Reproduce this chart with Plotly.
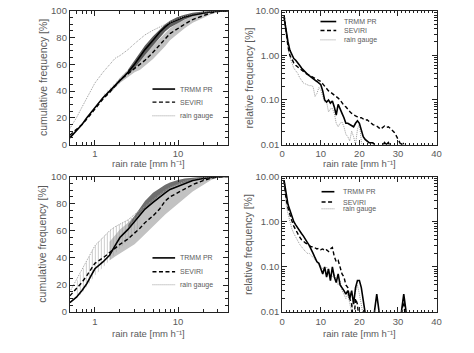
import plotly.graph_objects as go

# ---------------- cumulative frequency (left panels) ----------------
cum_rate = [0.5, 0.6, 0.7, 0.8, 0.9, 1.0, 1.25, 1.5, 1.75, 2.0, 2.5, 3.0, 3.5, 4, 5, 6, 7, 8, 10, 12, 15, 20, 25, 30, 40]

# top-left
cum_trmm_a = [5, 10, 15, 20, 24, 28, 35, 40, 44, 48, 54, 60, 66, 71, 78, 84, 88, 91, 93.5, 95.5, 97, 98.5, 99.3, 99.7, 100]
cum_sev_a = [7, 11, 15, 19, 23, 27, 34, 39, 44, 48, 53, 57, 60, 63, 69, 74, 79, 83, 87, 90, 93.5, 96.5, 98.5, 99.5, 100]
cum_gauge_a = [12, 20, 28, 35, 41, 46, 54, 60, 64.5, 66.5, 71, 75.5, 79, 82, 85.5, 88, 90, 91.5, 94, 96, 97.5, 99, 99.5, 100, 100]

dark_rate_a = [2.5, 3, 3.5, 4, 5, 6, 7, 8, 10, 12, 15, 20, 25, 30, 40]
dark_up_a = [56, 63, 69, 74, 81, 86, 90, 92.5, 95.5, 97, 98.5, 99.5, 99.8, 100, 100]
dark_lo_a = [52, 57, 62, 67, 74, 80, 84.5, 87.5, 91, 93.5, 96, 97.5, 99, 99.6, 100]

light_rate_a = [1.5, 1.75, 2, 2.5, 3, 3.5, 4, 5, 6, 7, 8, 10, 12, 15, 20, 25, 30, 40]
light_up_a = [40, 45.5, 50, 56, 61, 65, 68, 74, 79, 83, 87, 91, 93.5, 96, 98.5, 99.5, 100, 100]
light_lo_a = [38, 42.5, 46, 50.5, 54, 56, 59, 64, 69, 73.5, 78, 83, 87, 91, 94.5, 97.5, 99, 100]

hatch_rate_a = [1.25, 1.5, 1.75, 2.0, 2.5]
hatch_up_a = [37, 42, 46, 50, 56]
hatch_lo_a = [34, 38, 42, 46, 52]

# bottom-left
cum_trmm_b = [7, 11, 16, 21, 27, 32, 37, 42, 49, 55, 61, 67, 72, 76, 81, 85, 88, 90.5, 93, 95, 97, 98.5, 99.3, 99.8, 100]
cum_sev_b = [12, 17, 22, 27, 32, 36, 40, 44, 47, 50, 54, 58, 62, 66, 71, 76, 82, 85, 88, 91, 94, 97, 98.8, 99.6, 100]
cum_gauge_b = [15, 24, 32, 39, 44, 49, 55, 60, 63, 65, 68, 72, 75, 78, 83, 87, 90, 92, 94.5, 96.5, 98, 99.3, 99.7, 100, 100]

dark_rate_b = [2.5, 3, 3.5, 4, 5, 6, 7, 8, 10, 12, 15, 20, 25, 30, 40]
dark_up_b = [64, 71, 77, 82, 88, 91.5, 94, 95.5, 97.5, 98.5, 99.3, 99.8, 100, 100, 100]
dark_lo_b = [62, 68, 73, 77, 82, 86, 89, 91.5, 94, 95.5, 97.5, 98.8, 99.4, 99.8, 100]

light_rate_b = [1.5, 1.75, 2, 2.5, 3, 3.5, 4, 5, 6, 7, 8, 10, 12, 15, 20, 25, 30, 40]
light_up_b = [52, 57, 61, 66, 71, 75, 78, 84, 87.5, 90, 92, 95, 96.5, 98, 99.3, 99.8, 100, 100]
light_lo_b = [38, 41, 43.5, 47, 50, 54, 57, 63, 68, 72, 75.5, 80, 84, 89, 94, 97.5, 99.2, 100]

hatch_rate_b = [0.6, 0.7, 0.8, 0.9, 1.0, 1.25, 1.5, 1.75, 2.0, 2.5, 3.0, 3.5]
hatch_up_b = [22, 30, 38, 44, 49, 55, 60, 63, 65, 68, 71, 73]
hatch_lo_b = [10, 14, 19, 23, 27, 33, 38, 43, 47, 53, 58, 62]

# ---------------- relative frequency (right panels) ----------------
rel_rate = [0.5, 1.0, 1.5, 2.0, 2.5, 3.0, 3.5, 4.0, 4.5, 5.0, 5.5, 6.0, 6.5, 7.0, 7.5, 8.0, 8.5, 9.0, 9.5, 10.0,
            10.5, 11.0, 11.5, 12.0, 12.5, 13.0, 13.5, 14.0, 14.5, 15.0, 15.5, 16.0, 16.5, 17.0, 17.5, 18.0, 18.5, 19.0, 19.5, 20.0,
            20.5, 21.0, 21.5, 22.0, 22.5, 23.0, 23.5, 24.0, 24.5, 25.0, 25.5, 26.0, 26.5, 27.0, 27.5, 28.0, 28.5, 29.0, 29.5, 30.0,
            30.5, 31.0, 31.5, 32.0, 32.5, 33.0, 33.5, 34.0, 34.5, 35.0]

rel_trmm_a = [7.0, 3.5, 2.0, 1.3, 1.0, 0.85, 0.78, 0.7, 0.6, 0.52, 0.46, 0.42, 0.38, 0.35, 0.32, 0.3, 0.28, 0.26, 0.24, 0.22,
              0.16, 0.1, 0.09, 0.1, 0.085, 0.095, 0.07, 0.046, 0.08, 0.06, 0.05, 0.04, 0.03, 0.03, 0.028, 0.026, 0.025, 0.03, 0.034, 0.03,
              0.02, 0.015, 0.013, 0.012, 0.011, 0.011, 0.011, 0.009, 0.005, 0.005, 0.005, 0.009, 0.011, 0.01, 0.011, 0.009, 0.005, 0.005, 0.005, 0.005,
              0.005, 0.005, 0.005, 0.005, 0.005, 0.005, 0.005, 0.005, 0.005, 0.005]
rel_sev_a = [8.0, 3.0, 1.6, 1.0, 0.8, 0.68, 0.6, 0.55, 0.5, 0.46, 0.43, 0.4, 0.38, 0.36, 0.34, 0.32, 0.3, 0.29, 0.28, 0.26,
             0.23, 0.2, 0.18, 0.16, 0.15, 0.14, 0.13, 0.12, 0.11, 0.1, 0.085, 0.075, 0.07, 0.06, 0.055, 0.05, 0.046, 0.044, 0.042, 0.04,
             0.04, 0.037, 0.035, 0.036, 0.033, 0.03, 0.028, 0.027, 0.026, 0.024, 0.022, 0.024, 0.026, 0.024, 0.025, 0.023, 0.021, 0.019, 0.016, 0.013,
             0.011, 0.009, 0.011, 0.008, 0.005, 0.005, 0.009, 0.005, 0.005, 0.005]
rel_gauge_a = [6.0, 2.5, 1.4, 0.9, 0.65, 0.52, 0.45, 0.4, 0.32, 0.27, 0.24, 0.23, 0.22, 0.21, 0.21, 0.2, 0.12, 0.14, 0.19, 0.17,
               0.12, 0.09, 0.09, 0.054, 0.063, 0.065, 0.05, 0.03, 0.025, 0.03, 0.032, 0.025, 0.017, 0.015, 0.012, 0.02, 0.015, 0.01, 0.022, 0.03,
               0.012, 0.005, 0.005, 0.005, 0.005, 0.005, 0.005, 0.005, 0.005, 0.005, 0.005, 0.005, 0.005, 0.005, 0.005, 0.005, 0.005, 0.005, 0.005, 0.005,
               0.005, 0.005, 0.005, 0.005, 0.005, 0.005, 0.005, 0.005, 0.005, 0.005]

rel_trmm_b = [8.0, 3.8, 2.4, 1.8, 1.3, 1.0, 0.85, 0.75, 0.65, 0.55, 0.48, 0.42, 0.35, 0.3, 0.25, 0.2, 0.16, 0.13, 0.12, 0.09,
              0.07, 0.1, 0.06, 0.09, 0.05, 0.1, 0.06, 0.045, 0.07, 0.04, 0.035, 0.03, 0.025, 0.03, 0.02, 0.03, 0.015, 0.035, 0.05, 0.05,
              0.035, 0.02, 0.01, 0.005, 0.005, 0.005, 0.005, 0.012, 0.025, 0.012, 0.005, 0.005, 0.005, 0.005, 0.005, 0.005, 0.005, 0.005, 0.005, 0.005,
              0.005, 0.012, 0.025, 0.012, 0.005, 0.005, 0.005, 0.005, 0.005, 0.005]
rel_sev_b = [8.0, 3.2, 2.0, 1.4, 1.05, 0.8, 0.65, 0.55, 0.46, 0.4, 0.36, 0.34, 0.32, 0.3, 0.28, 0.28, 0.26, 0.25, 0.26, 0.24,
             0.25, 0.23, 0.24, 0.22, 0.25, 0.27, 0.17, 0.13, 0.14, 0.1, 0.07, 0.06, 0.04, 0.035, 0.02, 0.015, 0.005, 0.02, 0.015, 0.005,
             0.005, 0.005, 0.005, 0.005, 0.005, 0.005, 0.005, 0.005, 0.005, 0.005, 0.005, 0.005, 0.005, 0.005, 0.005, 0.005, 0.005, 0.005, 0.005, 0.005,
             0.005, 0.01, 0.02, 0.005, 0.005, 0.005, 0.005, 0.005, 0.005, 0.005]
rel_gauge_b = [6.0, 2.5, 1.5, 1.0, 0.7, 0.55, 0.45, 0.38, 0.32, 0.28, 0.24, 0.22, 0.2, 0.2, 0.18, 0.16, 0.15, 0.13, 0.12, 0.1,
               0.09, 0.09, 0.1, 0.08, 0.07, 0.06, 0.07, 0.05, 0.04, 0.05, 0.03, 0.025, 0.02, 0.025, 0.015, 0.01, 0.02, 0.03, 0.04, 0.025,
               0.015, 0.01, 0.005, 0.005, 0.005, 0.005, 0.005, 0.005, 0.005, 0.005, 0.005, 0.005, 0.01, 0.01, 0.01, 0.01, 0.01, 0.005, 0.005, 0.005,
               0.005, 0.005, 0.005, 0.005, 0.005, 0.005, 0.005, 0.005, 0.005, 0.005]

series_names = ["TRMM PR", "SEVIRI", "rain gauge"]
rel_tick_vals = [0.01, 0.1, 1, 10]
rel_tick_text = ["0.01", "0.10", "1.00", "10.00"]
x_title = "rain rate [mm h\u207b\u00b9]"
y_titles = ["cumulative frequency [%]", "relative frequency [%]"]

# ---------------- styles ----------------
TXT = "#5a5a5a"
FONT = "Liberation Sans"
DARK = "#5e5e5e"
DARK_B = "#6e6e6e"
LIGHT = "#c2c2c2"
line_styles = [dict(color="black", width=1.6),
               dict(color="black", width=1.4, dash="4px,2.5px"),
               dict(color="#9a9a9a", width=1.0, dash="1px,1px")]

fig = go.Figure()


def band(xv, up, lo, xa, ya, color=None, hatch=False):
    xs = list(xv) + list(xv)[::-1]
    ys = list(up) + list(lo)[::-1]
    kw = dict(x=xs, y=ys, xaxis=xa, yaxis=ya, mode="lines", line=dict(width=0),
              fill="toself", showlegend=False, hoverinfo="skip")
    if hatch:
        kw["fillcolor"] = "rgba(0,0,0,0)"
        kw["fillpattern"] = dict(shape="|", fgcolor="#9a9a9a", bgcolor="rgba(0,0,0,0)", size=3, solidity=0.35)
    else:
        kw["fillcolor"] = color
    fig.add_trace(go.Scatter(**kw))


# left panels
for xa, ya, dcol, data in [
    ("x", "y", DARK, (light_rate_a, light_up_a, light_lo_a, dark_rate_a, dark_up_a, dark_lo_a,
                      hatch_rate_a, hatch_up_a, hatch_lo_a, cum_trmm_a, cum_sev_a, cum_gauge_a)),
    ("x3", "y3", DARK_B, (light_rate_b, light_up_b, light_lo_b, dark_rate_b, dark_up_b, dark_lo_b,
                          hatch_rate_b, hatch_up_b, hatch_lo_b, cum_trmm_b, cum_sev_b, cum_gauge_b)),
]:
    lr, lu, ll, dr, du, dl, hr, hu, hl, t, s, g = data
    band(lr, lu, ll, xa, ya, color=LIGHT)
    band(dr, du, dl, xa, ya, color=dcol)
    band(hr, hu, hl, xa, ya, hatch=True)
    for name, vals, st in zip(series_names, [t, s, g], line_styles):
        fig.add_trace(go.Scatter(x=cum_rate, y=vals, xaxis=xa, yaxis=ya, mode="lines",
                                 line=st, name=name, showlegend=False))

# right panels
for xa, ya, vals_list in [("x2", "y2", [rel_trmm_a, rel_sev_a, rel_gauge_a]),
                          ("x4", "y4", [rel_trmm_b, rel_sev_b, rel_gauge_b])]:
    for name, vals, st in reversed(list(zip(series_names, vals_list, line_styles))):
        fig.add_trace(go.Scatter(x=rel_rate, y=vals, xaxis=xa, yaxis=ya, mode="lines",
                                 line=st, name=name, showlegend=False))

# ---------------- axes ----------------
xl = [68 / 474, 229 / 474]
xr = [284 / 474, 441 / 474]
yt = [1 - 143 / 353, 1 - 5 / 353]
yb = [1 - 316 / 353, 1 - 176 / 353]

common = dict(showline=True, linecolor="#222222", linewidth=1, mirror="allticks", ticks="inside",
              tickcolor="#222222", showgrid=False, zeroline=False,
              tickfont=dict(family=FONT, size=9.5, color=TXT))
xtitle_font = dict(family=FONT, size=9.5, color=TXT)
ytitle_font = dict(family=FONT, size=10.5, color=TXT)

log_minor = [0.5, 0.6, 0.7, 0.8, 0.9, 2, 3, 4, 5, 6, 7, 8, 9, 20, 30, 40]
rel_minor = [0.02, 0.03, 0.04, 0.05, 0.06, 0.07, 0.08, 0.09, 0.2, 0.3, 0.4, 0.5, 0.6, 0.7, 0.8, 0.9,
             2, 3, 4, 5, 6, 7, 8, 9]

annots = []
xtitle_y = {1: 163, 2: 163, 3: 338, 4: 338}
ytitle_x = {1: 40, 2: 250, 3: 40, 4: 250}
for i, (xd, yd) in enumerate([(xl, yt), (xr, yt), (xl, yb), (xr, yb)], start=1):
    sx = "" if i == 1 else str(i)
    left = i in (1, 3)
    xa = dict(common, domain=xd, anchor="y" + sx, ticklen=5)
    ya = dict(common, domain=yd, anchor="x" + sx, ticklen=5)
    if left:
        xa.update(type="log", range=[-0.30103, 1.60206], tickvals=[1, 10], ticktext=["1", "10"],
                  minor=dict(tickvals=log_minor, ticks="inside", ticklen=3, tickcolor="#222222"))
        ya.update(range=[0, 100], dtick=20, tick0=0,
                  minor=dict(dtick=5, ticks="inside", ticklen=3, tickcolor="#222222"))
    else:
        xa.update(range=[0, 40], dtick=10, tick0=0,
                  minor=dict(dtick=1, ticks="inside", ticklen=2, tickcolor="#222222"))
        ya.update(type="log", range=[-2, 1], tickvals=rel_tick_vals, ticktext=rel_tick_text,
                  minor=dict(tickvals=rel_minor, ticks="inside", ticklen=3, tickcolor="#222222"))
    fig.layout["xaxis" + sx] = xa
    fig.layout["yaxis" + sx] = ya
    annots.append(dict(text=x_title, xref="x" + sx + " domain", x=0.5, yref="paper",
                       y=1 - xtitle_y[i] / 353, xanchor="center", yanchor="middle",
                       showarrow=False, font=xtitle_font))
    annots.append(dict(text=y_titles[0] if left else y_titles[1], xref="paper", x=ytitle_x[i] / 474,
                       yref="y" + sx + " domain", y=0.5, xanchor="center", yanchor="middle",
                       textangle=-90, showarrow=False, font=ytitle_font))

# ---------------- hand-drawn legends (IDL style) ----------------
legend_specs = [
    ("x", "y", 0.522, 0.665, 0.683, [0.415, 0.317, 0.215]),
    ("x2", "y2", 0.248, 0.350, 0.389, [0.92, 0.853, 0.783]),
    ("x3", "y3", 0.522, 0.665, 0.683, [0.40, 0.298, 0.202]),
    ("x4", "y4", 0.255, 0.338, 0.382, [0.888, 0.812, 0.762]),
]
shapes = []
for xa, ya, x0, x1, xt, ys in legend_specs:
    for name, st, yy in zip(series_names, line_styles, ys):
        ln = dict(color=st["color"], width=st["width"])
        if "dash" in st:
            ln["dash"] = st["dash"]
        shapes.append(dict(type="line", xref=xa + " domain", yref=ya + " domain",
                           x0=x0, x1=x1, y0=yy, y1=yy, line=ln))
        annots.append(dict(text=name, xref=xa + " domain", yref=ya + " domain", x=xt, y=yy,
                           xanchor="left", yanchor="middle", showarrow=False,
                           font=dict(family=FONT, size=7, color=TXT)))

fig.update_layout(width=474, height=353, margin=dict(l=0, r=0, t=0, b=0),
                  paper_bgcolor="white", plot_bgcolor="white", showlegend=False,
                  shapes=shapes, annotations=annots)

fig.write_html("out.html")
